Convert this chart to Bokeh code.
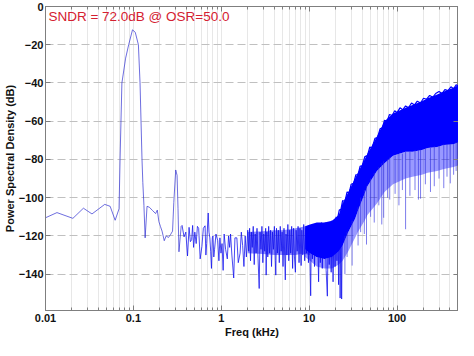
from bokeh.plotting import figure
from bokeh.models import (FixedTicker, LogAxis, LinearAxis, Label, CustomJSTickFormatter, Range1d)
from bokeh.embed import file_html
from bokeh.resources import INLINE

# ---------------- data ----------------
# axis ticks
x_major = [0.01, 0.1, 1, 10, 100]
x_minor = [0.02, 0.03, 0.04, 0.05, 0.06, 0.07, 0.08, 0.09,
           0.2, 0.3, 0.4, 0.5, 0.6, 0.7, 0.8, 0.9,
           2, 3, 4, 5, 6, 7, 8, 9,
           20, 30, 40, 50, 60, 70, 80, 90,
           200, 300, 400, 500]
y_ticks = [0, -20, -40, -60, -80, -100, -120, -140]

# signal tone + harmonic region (kHz, dB)
freq_tone = [0.0100, 0.0135, 0.0205, 0.0270, 0.0338, 0.0472, 0.0544, 0.0620, 0.0687,
             0.0705, 0.0740, 0.0816, 0.0884, 0.0977, 0.1050, 0.1140, 0.1190, 0.1253,
             0.1280, 0.1318, 0.1360, 0.1430, 0.1519, 0.1650, 0.1790, 0.1870, 0.1950,
             0.2030, 0.2120, 0.2245, 0.2360, 0.2506, 0.2654, 0.2790, 0.2883, 0.3030,
             0.3140, 0.3220, 0.3300, 0.3496, 0.3583]
psd_tone = [-110.5, -107.8, -110.8, -105.5, -108.5, -103.5, -104.5, -111.8, -105.8,
            -80.0, -40.0, -27.0, -20.0, -12.2, -13.5, -20.0, -40.0, -80.0,
            -92.0, -104.0, -121.0, -104.5, -105.0, -106.7, -108.3, -106.5, -112.5,
            -115.0, -117.5, -122.5, -120.0, -120.8, -119.2, -117.5, -102.5, -85.5,
            -88.3, -105.8, -128.3, -115.0, -114.5]

# in-band noise floor (kHz, dB)
freq_noise = [0.358, 0.377, 0.395, 0.413, 0.430, 0.445, 0.460, 0.472, 0.484, 0.500,
              0.518, 0.535, 0.553, 0.575, 0.602, 0.625, 0.654, 0.668, 0.682, 0.710,
              0.725, 0.741, 0.757, 0.773, 0.790, 0.804, 0.822, 0.839, 0.870, 0.911,
              0.940, 0.965, 0.992, 1.02, 1.05, 1.078, 1.12, 1.171, 1.21, 1.245,
              1.275, 1.32, 1.385, 1.43, 1.504, 1.56, 1.637, 1.69, 1.75, 1.81,
              1.87, 1.93, 2.00, 2.05, 2.10, 2.15, 2.20, 2.25, 2.31, 2.37,
              2.43, 2.49, 2.55, 2.62, 2.70, 2.76, 2.83, 2.90, 2.97, 3.04,
              3.12, 3.20, 3.24, 3.30, 3.38, 3.46, 3.55, 3.64, 3.73, 3.82,
              3.92, 4.02, 4.12, 4.17, 4.25, 4.35, 4.46, 4.57, 4.69, 4.80,
              4.92, 5.04, 5.17, 5.35, 5.45, 5.58, 5.72, 5.86, 6.01, 6.16,
              6.32, 6.48, 6.64, 6.80, 6.97, 7.10, 7.30, 7.48, 7.67, 7.86,
              8.10, 8.25, 8.46, 8.67, 8.89, 9.11, 9.34, 9.57, 9.81, 10.05,
              10.4, 10.6, 10.9, 11.2, 11.5, 11.8, 12.1, 12.4, 12.8, 13.1,
              13.4, 13.8, 14.1, 14.5, 14.9, 15.2, 15.6, 16.1, 16.5, 16.9,
              17.3, 17.8, 18.2, 18.7, 19.2, 19.7, 20.2, 20.7, 21.2, 21.6,
              22.1, 22.5, 23.0, 23.4, 24.0]
psd_noise = [-114.5, -120.5, -118.0, -130.5, -115.5, -123.0, -122.0, -114.5, -126.0, -118.0,
             -124.0, -115.0, -116.0, -132.0, -125.5, -116.0, -114.7, -130.0, -124.0, -108.0,
             -118.0, -121.0, -128.0, -137.0, -121.0, -120.0, -131.0, -127.0, -119.0, -122.5,
             -133.0, -121.0, -129.0, -124.0, -138.0, -119.0, -127.0, -132.0, -120.0, -126.0,
             -119.0, -130.0, -142.0, -121.0, -121.0, -134.0, -129.0, -118.0, -125.0, -136.0,
             -120.0, -131.0, -117.0, -128.0, -116.0, -133.0, -118.0, -126.0, -115.0, -135.0,
             -119.0, -129.0, -116.0, -132.0, -147.5, -118.0, -127.0, -115.0, -134.0, -119.0,
             -128.0, -116.0, -140.5, -118.0, -131.0, -115.0, -129.0, -117.0, -136.0, -118.0,
             -127.0, -115.0, -133.0, -140.5, -116.0, -129.0, -117.0, -134.0, -115.0, -128.0,
             -118.0, -136.0, -116.0, -143.0, -119.0, -130.0, -114.0, -133.0, -117.0, -129.0,
             -115.0, -137.0, -116.0, -131.0, -139.0, -117.0, -128.0, -115.0, -134.0, -116.0,
             -135.5, -117.0, -130.0, -114.0, -133.0, -116.0, -129.0, -115.0, -134.0, -116.0,
             -151.3, -115.0, -132.0, -114.0, -136.0, -115.0, -131.0, -114.0, -144.0, -115.0,
             -134.0, -113.0, -137.0, -114.0, -132.0, -113.0, -138.0, -151.5, -114.0, -135.0,
             -113.0, -139.0, -112.0, -144.0, -113.0, -136.0, -111.0, -133.0, -110.0, -145.5,
             -109.0, -152.5, -106.0, -153.0, -103.0]

# light fill under the in-band noise (kHz, dB)
mid_f = [2.0, 3.0, 4.0, 5.0, 6.0, 7.0, 8.0, 9.0, 10.2]
mid_hi = [-118.0, -117.5, -117.0, -117.0, -116.5, -116.0, -115.5, -115.0, -114.5]
mid_lo = [-129.0, -129.5, -130.0, -130.0, -130.0, -130.0, -129.5, -129.5, -130.0]

# dense shaped-noise band: upper / lower edge of the solid region (kHz, dB)
band_f = [9.0, 10.2, 12.2, 14.9, 18.2, 21.7, 24.0, 27.9, 33.3, 35.8, 42.7, 46.0,
          59.0, 72.0, 90.0, 125.0, 150.0, 192.0, 223.0, 286.0, 341.0, 438.0, 500.0]
band_hi = [-115.0, -114.0, -113.0, -113.0, -112.0, -109.0, -103.0, -97.0, -90.0, -87.0, -80.0, -77.0,
           -68.0, -60.0, -56.0, -53.0, -51.5, -49.5, -48.0, -46.0, -44.5, -42.5, -41.0]
band_lo = [-127.0, -129.0, -131.0, -132.0, -131.0, -128.0, -125.0, -118.0, -111.0, -107.0, -98.0, -94.0,
           -86.0, -82.0, -78.0, -76.0, -76.0, -75.0, -74.0, -73.5, -72.5, -72.0, -71.0]
# sparser region just below the solid band (dB)
band_lo2 = [-131.0, -133.0, -136.0, -137.0, -137.0, -135.0, -133.0, -128.0, -121.0, -118.0, -112.0, -109.0,
            -103.0, -97.0, -93.0, -90.0, -89.0, -88.0, -87.0, -86.0, -85.0, -84.0, -83.0]

# ragged upper edge of the shaped noise (kHz, dB)
edge_f = [20, 21, 22, 23, 24, 25.5, 27, 28.5, 30, 32, 34, 36, 38, 40, 43, 46, 49, 52,
          56, 60, 64, 68, 72, 77, 82, 88, 94, 100, 108, 116, 125, 135, 146, 158, 170,
          185, 200, 217, 235, 255, 275, 300, 325, 350, 380, 410, 440, 470, 500]
edge_db = [-110.0, -111.0, -106.5, -106.0, -101.5, -102.0, -97.0, -97.5, -93.0, -92.5, -88.0, -88.0,
           -83.5, -83.5, -78.5, -78.0, -73.5, -74.0, -69.0, -68.5, -64.0, -63.5, -59.5, -60.0,
           -56.5, -57.0, -54.5, -55.5, -53.0, -54.0, -52.0, -53.0, -50.5, -51.5, -49.5,
           -50.5, -48.0, -48.5, -46.5, -47.5, -45.5, -44.5, -45.5, -43.5, -44.0, -42.0,
           -43.0, -41.0, -41.5]

# deep downward spikes below the band (kHz, top dB, bottom dB)
spike_f = [25.5, 27.0, 30.8, 36.0, 38.5, 42.4, 44.9, 50.0, 55.0, 62.0, 67.0, 70.4,
           78.0, 82.5, 95.0, 105.0, 115.0, 125.0, 140.0, 160.0, 175.0, 185.0, 210.0,
           240.0, 265.0, 300.0, 340.0, 370.0, 403.0, 440.0, 470.0, 495.0]
spike_top = [-120.0, -118.0, -112.0, -105.0, -100.0, -96.0, -94.0, -90.0, -87.0, -84.0, -82.0, -81.0,
             -80.0, -79.0, -78.0, -77.0, -77.0, -76.0, -76.0, -75.0, -75.0, -75.0, -74.0,
             -74.0, -73.0, -73.0, -72.0, -72.0, -72.0, -72.0, -71.0, -71.0]
spike_bot = [-140.0, -131.0, -135.5, -125.0, -118.0, -119.0, -124.5, -110.0, -113.0, -104.0, -114.0, -110.5,
             -100.0, -101.0, -98.0, -104.0, -96.0, -116.5, -99.0, -96.0, -101.0, -100.5, -93.0,
             -97.0, -94.0, -90.0, -95.0, -89.0, -92.5, -88.0, -86.0, -78.0]

title_text = "SNDR = 72.0dB @ OSR=50.0"

# ---------------- figure ----------------
FONT = "'Liberation Sans Narrow', 'Arial Narrow', 'Liberation Sans', Arial, sans-serif"
BLUE = "#0000ff"

p = figure(width=458, height=340, x_axis_type="log",
           x_range=Range1d(0.01, 500), y_range=Range1d(-159, 0),
           output_backend="svg", toolbar_location=None,
           min_border_left=0, min_border_right=0, min_border_top=6, min_border_bottom=0)
p.background_fill_color = "white"
p.border_fill_color = "white"
p.outline_line_color = "#7f7f7f"

xt = FixedTicker(ticks=x_major, minor_ticks=x_minor)
yt = FixedTicker(ticks=y_ticks)
p.xaxis.ticker = xt
p.yaxis.ticker = yt
p.xgrid.ticker = xt
p.ygrid.ticker = yt
p.xaxis.formatter = CustomJSTickFormatter(code="return String(tick);")

p.xgrid.grid_line_color = "#cfcfcf"
p.xgrid.grid_line_dash = "1 1"
p.xgrid.minor_grid_line_color = "#cfcfcf"
p.xgrid.minor_grid_line_dash = "1 1"
p.ygrid.grid_line_color = "#c0c0c0"
p.ygrid.grid_line_dash = "8 4"

for ax in (p.xaxis[0], p.yaxis[0]):
    ax.axis_line_color = "#7f7f7f"
    ax.major_tick_line_color = "#7f7f7f"
    ax.minor_tick_line_color = "#7f7f7f"
    ax.major_tick_in = 5
    ax.major_tick_out = 0
    ax.minor_tick_in = 3
    ax.minor_tick_out = 0
    ax.major_label_text_font = FONT
    ax.major_label_text_font_style = "bold"
    ax.major_label_text_font_size = "11px"
    ax.major_label_text_color = "#111111"
    ax.axis_label_text_font = FONT
    ax.axis_label_text_font_style = "bold"
    ax.axis_label_text_color = "#111111"

p.yaxis.minor_tick_in = 0
p.xaxis.major_label_standoff = 3
p.yaxis.major_label_standoff = 2
p.xaxis.axis_label = "Freq (kHz)"
p.xaxis.axis_label_text_font_size = "11px"
p.xaxis.axis_label_standoff = 1
p.yaxis.axis_label = "Power Spectral Density (dB)"
p.yaxis.axis_label_text_font_size = "11px"
p.yaxis.axis_label_standoff = 0

# box ticks on top and right, MATLAB-style (labels invisible)
ra = LinearAxis(ticker=FixedTicker(ticks=y_ticks), major_label_text_font_size="1px",
                major_label_text_alpha=0.0,
                major_tick_in=5, major_tick_out=0, minor_tick_in=0, minor_tick_out=0,
                major_label_standoff=0, axis_line_color="#7f7f7f", major_tick_line_color="#7f7f7f")
p.add_layout(ra, "right")
ta = LogAxis(ticker=FixedTicker(ticks=x_major, minor_ticks=x_minor), major_label_text_font_size="1px",
             major_label_text_alpha=0.0,
             major_tick_in=5, major_tick_out=0, minor_tick_in=3, minor_tick_out=0,
             major_label_standoff=0, axis_line_color="#7f7f7f", major_tick_line_color="#7f7f7f",
             minor_tick_line_color="#7f7f7f")
p.add_layout(ta, "above")

# ---------------- data marks ----------------
p.varea(x=mid_f, y1=mid_lo, y2=mid_hi, fill_color=BLUE, fill_alpha=0.45)
p.line(freq_tone, psd_tone, line_color="#2a2ad0", line_width=1, line_alpha=0.68)
p.line(freq_noise, psd_noise, line_color="#1010ee", line_width=0.9, line_alpha=0.85)
p.varea(x=band_f, y1=band_lo2, y2=band_lo, fill_color=BLUE, fill_alpha=0.4)
p.varea(x=band_f, y1=band_lo, y2=band_hi, fill_color=BLUE, fill_alpha=1.0)
p.line(edge_f, edge_db, line_color=BLUE, line_width=1.2)
p.segment(x0=spike_f, y0=spike_top, x1=spike_f, y1=spike_bot,
          line_color="#3030e0", line_width=0.9, line_alpha=0.7)

p.add_layout(Label(x=0.0108, y=-1.2, text=title_text, text_baseline="top",
                   text_font=FONT, text_font_size="13.5px", text_color="#d42030"))

open("out.html", "w").write(file_html(p, INLINE))
